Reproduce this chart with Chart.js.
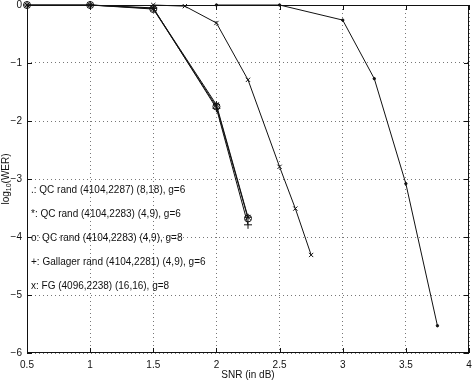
<!DOCTYPE html>
<html>
<head>
<meta charset="utf-8">
<script src="https://cdn.jsdelivr.net/npm/chart.js@4/dist/chart.umd.min.js"></script>
<style>
  html, body { margin: 0; padding: 0; background: #fff; }
  #wrap { width: 474px; height: 381px; }
</style>
</head>
<body>
<div id="wrap"><canvas id="werChart" width="474" height="381"></canvas></div>
<script>
// Series data (x = SNR in dB, y = log10(WER))
const dotSnr = [2.0, 2.5, 3.0, 3.25, 3.5, 3.75];
const dotWer = [0, 0, -0.26, -1.27, -3.08, -5.53];

const starSnr = [0.5, 1.0, 1.5, 2.0, 2.25];
const starWer = [0, 0, -0.06, -1.72, -3.66];

const circSnr = [0.5, 1.0, 1.5, 2.0, 2.25];
const circWer = [0, 0, -0.07, -1.75, -3.68];

const plusSnr = [1.0, 1.5, 2.0, 2.25];
const plusWer = [0, -0.05, -1.78, -3.79];

const fgSnr = [1.5, 1.75, 2.0, 2.25, 2.5, 2.625, 2.75];
const fgWer = [0, -0.02, -0.31, -1.29, -2.79, -3.51, -4.31];

const seriesLabels = [
    '.: QC rand (4104,2287) (8,18), g=6',
    '*: QC rand (4104,2283) (4,9), g=6',
    'o: QC rand (4104,2283) (4,9), g=8',
    '+: Gallager rand (4104,2281) (4,9), g=6',
    'x: FG (4096,2238) (16,16), g=8'
];

const xTicks = [0.5, 1, 1.5, 2, 2.5, 3, 3.5, 4];
const yTicks = [0, -1, -2, -3, -4, -5, -6];

const FONT = '"Liberation Sans", Arial, Helvetica, sans-serif';

function pts(xs, ys) {
    return xs.map((x, i) => ({ x: x, y: ys[i] }));
}

function series(label, xs, ys, style, radius, fill) {
    return {
        label: label,
        data: pts(xs, ys),
        showLine: true,
        borderColor: '#111',
        backgroundColor: fill ? '#111' : 'transparent',
        borderWidth: 1,
        pointStyle: style,
        pointRadius: radius,
        pointBorderColor: '#111',
        pointBorderWidth: 1,
        pointBackgroundColor: fill ? '#111' : 'transparent',
        pointHoverRadius: radius,
        tension: 0,
        clip: false
    };
}

// Frame, inward ticks, in-plot legend text and axis titles
const decorations = {
    id: 'decorations',
    afterDraw: (chart) => {
        const { ctx, chartArea: { left, right, top, bottom }, scales: { x, y } } = chart;
        ctx.save();
        ctx.strokeStyle = '#111';
        ctx.lineWidth = 1;
        ctx.strokeRect(left + 0.5, top + 0.5, right - left - 1, bottom - top - 1);

        const len = 5;
        ctx.beginPath();
        xTicks.forEach(v => {
            const px = Math.round(x.getPixelForValue(v)) + 0.5;
            ctx.moveTo(px, bottom); ctx.lineTo(px, bottom - len);
            ctx.moveTo(px, top); ctx.lineTo(px, top + len);
        });
        yTicks.forEach(v => {
            const py = Math.round(y.getPixelForValue(v)) + 0.5;
            ctx.moveTo(left, py); ctx.lineTo(left + len, py);
            ctx.moveTo(right, py); ctx.lineTo(right - len, py);
        });
        ctx.stroke();

        // legend text inside the plot
        ctx.fillStyle = '#111';
        ctx.font = '10px ' + FONT;
        ctx.textBaseline = 'middle';
        ctx.textAlign = 'left';
        seriesLabels.forEach((t, i) => {
            ctx.fillText(t, left + 4, 190 + i * 24);
        });

        // x title
        ctx.textAlign = 'center';
        ctx.fillText('SNR (in dB)', (left + right) / 2, 375);

        // y title with subscript
        ctx.translate(6, (top + bottom) / 2);
        ctx.rotate(-Math.PI / 2);
        ctx.textAlign = 'left';
        const a = 'log', sub = '10', b = '(WER)';
        ctx.font = '10px ' + FONT;
        const wa = ctx.measureText(a).width;
        const wb = ctx.measureText(b).width;
        ctx.font = '7px ' + FONT;
        const ws = ctx.measureText(sub).width;
        let cx = -(wa + ws + wb) / 2;
        ctx.font = '10px ' + FONT;
        ctx.fillText(a, cx, 0);
        cx += wa;
        ctx.font = '7px ' + FONT;
        ctx.fillText(sub, cx, 3);
        cx += ws;
        ctx.font = '10px ' + FONT;
        ctx.fillText(b, cx, 0);
        ctx.restore();
    }
};

const ctx = document.getElementById('werChart').getContext('2d');
new Chart(ctx, {
    type: 'scatter',
    data: {
        datasets: [
            series(seriesLabels[0], dotSnr, dotWer, 'circle', 1.2, true),
            series(seriesLabels[1], starSnr, starWer, 'star', 3.5, false),
            series(seriesLabels[2], circSnr, circWer, 'circle', 3.5, false),
            series(seriesLabels[3], plusSnr, plusWer, 'cross', 4, false),
            series(seriesLabels[4], fgSnr, fgWer, 'crossRot', 3, false)
        ]
    },
    options: {
        responsive: false,
        animation: false,
        events: [],
        layout: { padding: { top: 4, right: 3, bottom: 0, left: 0 } },
        plugins: {
            legend: { display: false },
            tooltip: { enabled: false }
        },
        scales: {
            x: {
                type: 'linear',
                min: 0.5,
                max: 4,
                afterBuildTicks: (scale) => { scale.ticks = xTicks.map(v => ({ value: v })); },
                afterFit: (scale) => { scale.height = 28; scale.paddingLeft = 0; scale.paddingRight = 0; },
                grid: { color: '#777', lineWidth: 1, drawTicks: false },
                border: { display: false, dash: [1, 3] },
                ticks: {
                    color: '#111',
                    padding: 6,
                    maxRotation: 0,
                    font: { family: FONT, size: 10 },
                    callback: (v) => String(v)
                }
            },
            y: {
                type: 'linear',
                min: -6,
                max: 0,
                afterBuildTicks: (scale) => { scale.ticks = yTicks.map(v => ({ value: v })); },
                afterFit: (scale) => { scale.width = 27; scale.paddingTop = 0; scale.paddingBottom = 0; },
                grid: { color: '#777', lineWidth: 1, drawTicks: false },
                border: { display: false, dash: [1, 3] },
                ticks: {
                    color: '#111',
                    padding: 5,
                    font: { family: FONT, size: 10 },
                    callback: (v) => (v < 0 ? '\u2212' + Math.abs(v) : String(v))
                }
            }
        }
    },
    plugins: [decorations]
});
</script>
</body>
</html>
